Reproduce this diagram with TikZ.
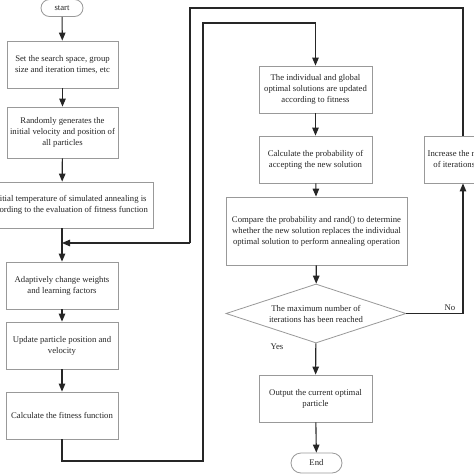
\documentclass[tikz,border=0pt]{standalone}
\usepackage{fontspec}
\setmainfont{Liberation Serif}
\usetikzlibrary{shapes.geometric,shapes.misc,arrows.meta}
\begin{document}
\begin{tikzpicture}[x=1pt,y=-1pt,
  every node/.style={font=\fontsize{8.7}{11}\selectfont, text=black!85},
  pbox/.style={draw=black!40, line width=0.8pt, fill=white, align=center, inner sep=2pt},
  term/.style={draw=black!40, line width=0.8pt, fill=white, rounded rectangle, inner sep=0pt},
  dec/.style={draw=black!40, line width=0.8pt, fill=white, diamond, aspect=3, inner sep=0pt, align=center, minimum width=180pt, minimum height=59pt},
  conn/.style={draw=black!85, line width=1.1pt},
  arr/.style={conn, -{Triangle[length=8pt,width=6.5pt]}},
  lbl/.style={font=\fontsize{8.7}{11}\selectfont}
]
\useasboundingbox (0,0) rectangle (474,474);
\clip (0,0) rectangle (474,474);
\fill[white] (0,0) rectangle (474,474);

% left column
\node[term, minimum width=42pt, minimum height=17pt] (start) at (62,8) {start};
\node[pbox, minimum width=111pt, minimum height=47pt] (b1) at (62.5,64.5) {Set the search space, group\\size and iteration times, etc};
\node[pbox, minimum width=111pt, minimum height=51pt] (b2) at (62.5,132.5) {Randomly generates the\\initial velocity and position of\\all particles};
\node[pbox, minimum width=182pt, minimum height=46pt] (b3) at (62,205) {The initial temperature of simulated annealing is\\set according to the evaluation of fitness function};
\node[pbox, minimum width=112pt, minimum height=47pt] (b4) at (62,285.5) {Adaptively change weights\\and learning factors};
\node[pbox, minimum width=112pt, minimum height=47pt] (b5) at (62,345.5) {Update particle position and\\velocity};
\node[pbox, minimum width=112pt, minimum height=47pt] (b6) at (62,415.5) {Calculate the fitness function};

% right column
\node[pbox, minimum width=113pt, minimum height=47pt] (b7) at (315.5,89.5) {The individual and global\\optimal solutions are updated\\according to fitness};
\node[pbox, minimum width=113pt, minimum height=47pt] (b8) at (315.5,159.5) {Calculate the probability of\\accepting the new solution};
\node[pbox, minimum width=181pt, minimum height=68pt] (b9) at (316.5,231) {Compare the probability and rand() to determine\\whether the new solution replaces the individual\\optimal solution to perform annealing operation};
\node[dec] (d) at (316,313.5) {The maximum number of\\iterations has been reached};
\node[pbox, minimum width=113pt, minimum height=47pt] (b10) at (315.5,398.5) {Output the current optimal\\particle};
\node[term, minimum width=51pt, minimum height=20pt] (end) at (316.5,463) {End};
\node[pbox, minimum width=78pt, minimum height=47pt] (inc) at (463,159.5) {Increase the number\\of iterations by 1};

% coordinates
\coordinate (j1) at (62,243);
\coordinate (c1) at (463,8);
\coordinate (c2) at (190,8);
\coordinate (c3) at (190,243);
\coordinate (c4) at (62,461);
\coordinate (c5) at (203,461);
\coordinate (c6) at (203,23);
\coordinate (c7) at (315.5,23);
\coordinate (c8) at (463,313.5);

% connectors
\draw[arr] (start) -- (b1);
\draw[arr] (b1) -- (b2);
\draw[arr] (b2) -- (b3);
\draw[arr] (b3) -- (b4);
\draw[arr] (b4) -- (b5);
\draw[arr] (b5) -- (b6);
\draw[conn] (b6.south) -- (c4) -- (c5) -- (c6) -- (c7);
\draw[arr] (c7) -- (b7.north);
\draw[arr] (b7) -- (b8);
\draw[arr] (b8) -- (b9);
\draw[arr] (b9) -- (d);
\draw[arr] (d) -- (b10);
\draw[arr] (b10) -- (end);
\draw[conn] (d.east) -- (c8);
\draw[arr] (c8) -- (inc.south);
\draw[conn] (inc.north) -- (c1) -- (c2) -- (c3);
\draw[arr] (c3) -- (j1);

% labels
\node[lbl] (no) at (450,308) {No};
\node[lbl] (yes) at (277,347) {Yes};
\end{tikzpicture}
\end{document}
